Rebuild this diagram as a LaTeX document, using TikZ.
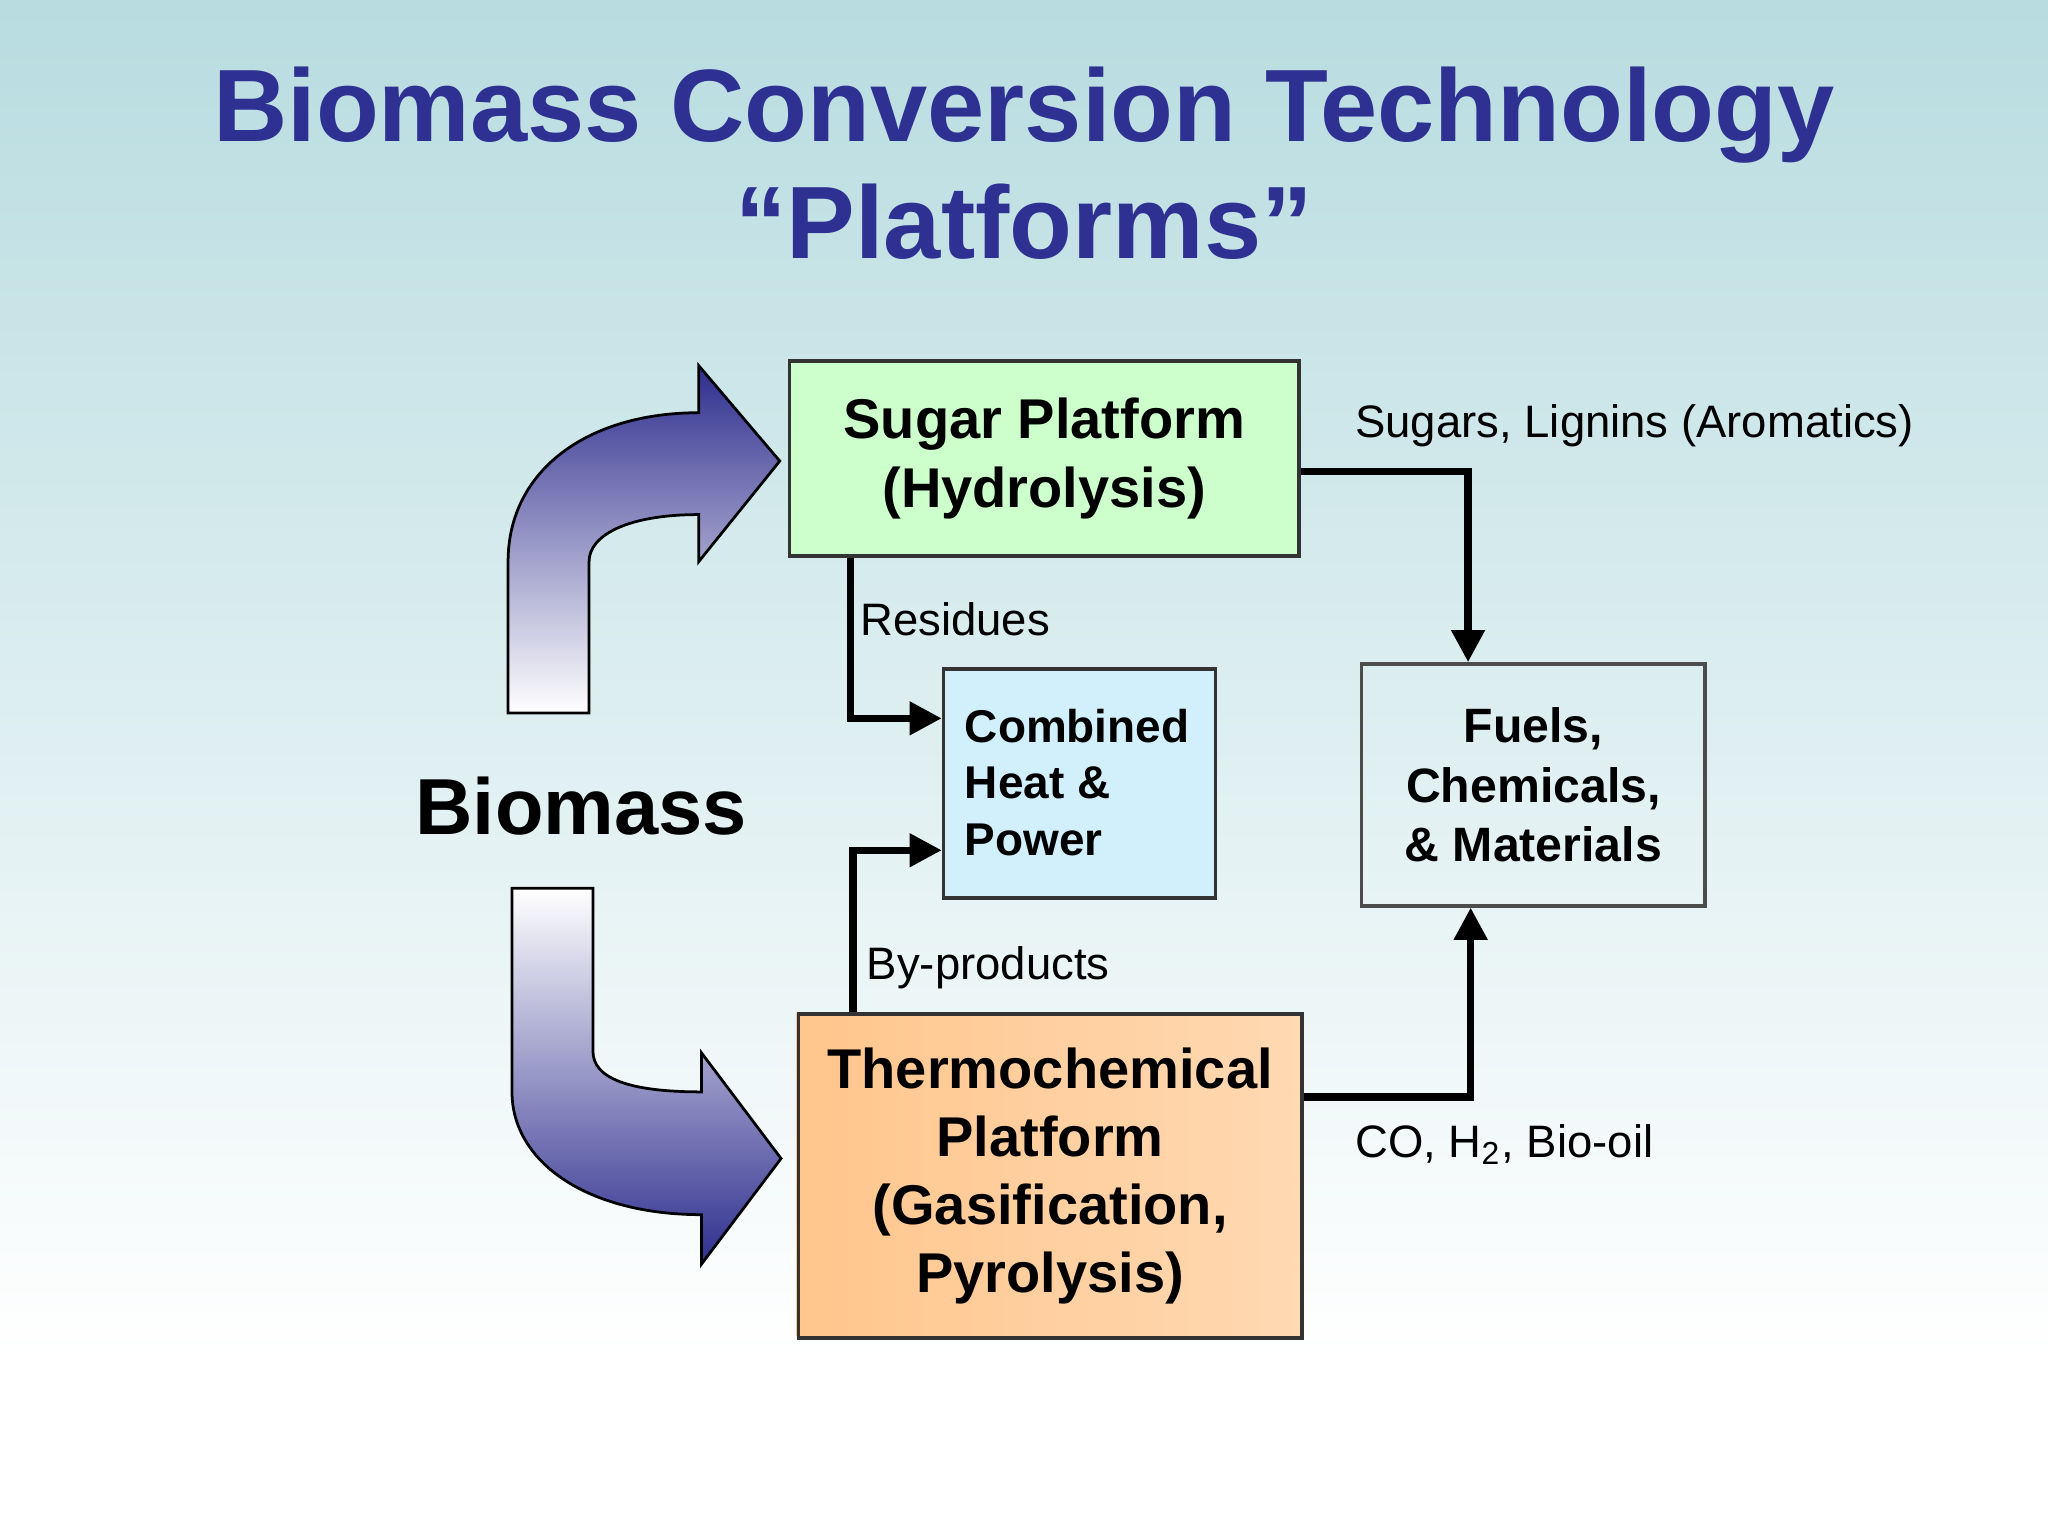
\documentclass[tikz,border=0pt]{standalone}
\usepackage{fontspec}
\setmainfont{Liberation Sans}
\usetikzlibrary{arrows.meta}
\definecolor{ttl}{HTML}{2E3192}
\definecolor{bgtop}{HTML}{B8DCE0}
\definecolor{arr}{HTML}{2E2E8E}
\tikzset{
 boxst/.style={draw=black!80, line width=0.8pt, inner sep=0pt},
 conn/.style={line width=1.6pt, -{Triangle[length=7pt,width=7pt]}},
 lbl/.style={font=\fontsize{9.9pt}{11pt}\selectfont, inner sep=0pt},
}
\begin{document}
\begin{tikzpicture}[x=0.01cm,y=-0.01cm]
\useasboundingbox (0,0) rectangle (1568,1174);
\fill[white] (0,0) rectangle (1568,1174);
\shade[top color=bgtop, bottom color=white] (0,0) rectangle (1568,1040);
\node[text=ttl, font=\bfseries\fontsize{22.4pt}{25.5pt}\selectfont, align=center] (title) at (784,125) {Biomass Conversion Technology\\“Platforms”};
% boxes
\node[boxst, fill=green!20, minimum width=3.90cm, minimum height=1.49cm, anchor=north west, align=center, font=\bfseries\fontsize{12.2pt}{15pt}\selectfont] (sugar) at (603,275) {Sugar Platform\\(Hydrolysis)};
\node[boxst, fill=cyan!18, minimum width=2.08cm, minimum height=1.75cm, anchor=north west] (chp) at (721,511) {};
\node[align=left, anchor=west, font=\bfseries\fontsize{10pt}{12.3pt}\selectfont, inner sep=0pt] (chpt) at (738,599) {Combined\\Heat \&\\Power};
\node[boxst, draw=black!70, minimum width=2.63cm, minimum height=1.85cm, anchor=north west, align=center, font=\bfseries\fontsize{10.5pt}{13pt}\selectfont] (fuels) at (1041,507) {Fuels,\\Chemicals,\\\& Materials};
\shade[left color=orange!45, right color=orange!30] (610,775) rectangle (995,1023);
\node[boxst, minimum width=3.85cm, minimum height=2.48cm, anchor=north west, align=center, font=\bfseries\fontsize{12.2pt}{14.8pt}\selectfont] (thermo) at (610,775) {Thermochemical\\Platform\\(Gasification,\\Pyrolysis)};
\node[font=\bfseries\fontsize{17.3pt}{20pt}\selectfont] (bio) at (445,617) {Biomass};
% curved arrows
\shade[top color=arr, bottom color=white, draw=black, line width=0.6pt]
 (389,546) -- (389,430) .. controls (389,360) and (450,316) .. (535,316) -- (535,280) -- (597,353) -- (535,430) -- (535,394) .. controls (480,394) and (451,410) .. (451,430) -- (451,546) -- cycle;
\shade[top color=white, bottom color=arr, draw=black, line width=0.6pt]
 (392,680) -- (392,836) .. controls (392,890) and (450,930) .. (537,930) -- (537,968) -- (598,887) -- (537,806) -- (537,836) .. controls (480,836) and (454,825) .. (454,805) -- (454,680) -- cycle;
% connectors
\coordinate (s1) at (1124,361);
\draw[conn] (sugar.east |- s1) -| (fuels.north -| s1);
\node[lbl, anchor=west] (l1) at (1037,326) {Sugars, Lignins (Aromatics)};
\coordinate (r1) at (651,550);
\draw[conn] (sugar.south -| r1) |- (chp.west |- r1);
\node[lbl, anchor=west] (l2) at (658,474) {Residues};
\coordinate (b1) at (653,651);
\draw[conn] (thermo.north -| b1) |- (chp.west |- b1);
\node[lbl, anchor=west] (l3) at (663,741) {By-products};
\coordinate (t1) at (1126,840);
\draw[conn] (thermo.east |- t1) -| (fuels.south -| t1);
\node[lbl, anchor=west] (l4) at (1037,876) {CO, H\textsubscript{2}, Bio-oil};
\end{tikzpicture}
\end{document}
